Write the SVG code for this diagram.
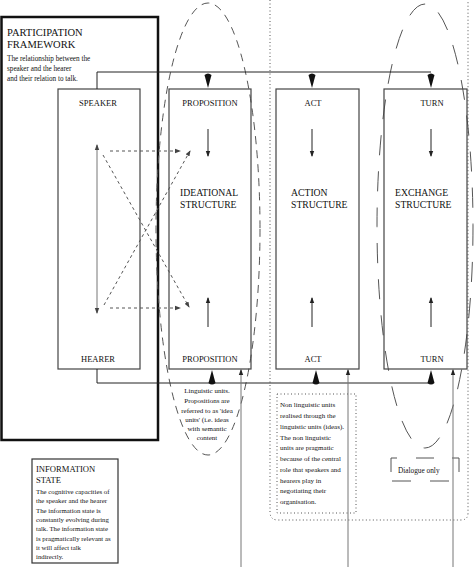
<svg xmlns="http://www.w3.org/2000/svg" width="474" height="567" viewBox="0 0 474 567">
<style>
text{font-family:"Liberation Serif","Times New Roman",serif;fill:#111}
.box{fill:none;stroke:#444;stroke-width:1.2}
.ln{fill:none;stroke:#222;stroke-width:1}
.gl{fill:none;stroke:#777;stroke-width:1}
.dsh{fill:none;stroke:#555;stroke-width:1;stroke-dasharray:3 3}
.dot{fill:none;stroke:#555;stroke-width:1;stroke-dasharray:1 2.5}
.ell{fill:none;stroke:#555;stroke-width:1}
.lbl{font-size:8.5px;text-anchor:middle}
.st{font-size:9.7px}
.sm{font-size:7px}
.ttl{font-size:10.5px}
</style>
<defs>
<marker id="ah" markerWidth="6" markerHeight="6" refX="5" refY="3" orient="auto" markerUnits="userSpaceOnUse">
<path d="M0,0.8 L6,3 L0,5.2 Z" fill="#222"/>
</marker>
<marker id="ahg" markerWidth="6" markerHeight="6" refX="5" refY="3" orient="auto-start-reverse" markerUnits="userSpaceOnUse">
<path d="M0,0.8 L6,3 L0,5.2 Z" fill="#444"/>
</marker>
<path id="thick" d="M-3.5,-13 Q0,-16 3.5,-13 L0,0 Z" fill="#111"/>
</defs>

<g id="participation-framework">
<rect x="1.5" y="17" width="156.5" height="423" fill="none" stroke="#111" stroke-width="2.5"/>
<text x="7" y="36" class="ttl">PARTICIPATION</text>
<text x="7" y="48" class="ttl">FRAMEWORK</text>
<text x="7" y="61" font-size="7.2">The relationship between the</text>
<text x="7" y="71" font-size="7.2">speaker and the hearer</text>
<text x="7" y="81" font-size="7.2">and their relation to talk.</text>
</g>

<g id="ellipse-ideational">
<ellipse cx="208" cy="229" rx="52" ry="226" class="ell" stroke-dasharray="8 6"/>
</g>
<g id="ellipse-exchange">
<ellipse cx="425" cy="226" rx="48" ry="222" class="ell" stroke-dasharray="20 16"/>
</g>

<g id="pragmatic-region">
<path d="M270,0 V512 Q270,520 278,520 H461 Q468,520 468,513 V0" class="dot"/>
</g>

<g id="speaker-hearer">
<rect x="58" y="89" width="82" height="280" class="box"/>
<text x="98" y="106" class="lbl">SPEAKER</text>
<text x="98" y="362" class="lbl">HEARER</text>
</g>

<g id="ideational-structure">
<rect x="169" y="89" width="82" height="280" class="box"/>
<text x="210" y="106" class="lbl">PROPOSITION</text>
<text x="180" y="196" class="st">IDEATIONAL</text>
<text x="180" y="208" class="st">STRUCTURE</text>
<text x="210" y="362" class="lbl">PROPOSITION</text>
</g>

<g id="action-structure">
<rect x="276" y="89" width="83" height="280" class="box"/>
<text x="313" y="106" class="lbl">ACT</text>
<text x="291" y="196" class="st">ACTION</text>
<text x="291" y="208" class="st">STRUCTURE</text>
<text x="313" y="362" class="lbl">ACT</text>
</g>

<g id="exchange-structure">
<rect x="384" y="89" width="83" height="280" class="box"/>
<text x="432" y="106" class="lbl">TURN</text>
<text x="395" y="196" class="st">EXCHANGE</text>
<text x="395" y="208" class="st">STRUCTURE</text>
<text x="432" y="362" class="lbl">TURN</text>
</g>

<g id="linguistic-note">
<text x="207" y="393" class="sm" text-anchor="middle">Linguistic units.</text>
<text x="207" y="403" class="sm" text-anchor="middle">Propositions are</text>
<text x="207" y="413" class="sm" text-anchor="middle">referred to as 'idea</text>
<text x="207" y="422" class="sm" text-anchor="middle">units' (i.e. ideas</text>
<text x="207" y="431" class="sm" text-anchor="middle">with semantic</text>
<text x="207" y="440" class="sm" text-anchor="middle">content</text>
</g>

<g id="non-linguistic-note">
<rect x="277" y="394" width="79" height="119" class="dot"/>
<text x="280" y="407" class="sm">Non linguistic units</text>
<text x="280" y="418" class="sm">realised through the</text>
<text x="280" y="429" class="sm">linguistic units (ideas).</text>
<text x="280" y="440" class="sm">The non linguistic</text>
<text x="280" y="450" class="sm">units are pragmatic</text>
<text x="280" y="461" class="sm">because of the central</text>
<text x="280" y="472" class="sm">role that speakers and</text>
<text x="280" y="483" class="sm">hearers play in</text>
<text x="280" y="493" class="sm">negotiating their</text>
<text x="280" y="504" class="sm">organisation.</text>
</g>

<g id="dialogue-only">
<path d="M391,472 V458 H397 M416,458 H434 M452,458 H459 V472 M392,481 H411 M430,481 H449" class="ell"/>
<text x="398" y="473" font-size="7.3">Dialogue only</text>
</g>

<g id="information-state">
<rect x="32" y="459" width="86" height="104" fill="none" stroke="#333" stroke-width="1.2"/>
<text x="36" y="472" font-size="8.6">INFORMATION</text>
<text x="36" y="483" font-size="8.6">STATE</text>
<text x="36" y="494" font-size="6.8">The cognitive capacities of</text>
<text x="36" y="503" font-size="6.8">the speaker and the hearer</text>
<text x="36" y="513" font-size="6.8">The information state is</text>
<text x="36" y="522" font-size="6.8">constantly evolving during</text>
<text x="36" y="531" font-size="6.8">talk. The information state</text>
<text x="36" y="541" font-size="6.8">is pragmatically relevant as</text>
<text x="36" y="550" font-size="6.8">it will affect talk</text>
<text x="36" y="559" font-size="6.8">indirectly.</text>
</g>

<g id="connectors">
<path d="M97,89 V72 H431" class="ln"/>
<use href="#thick" x="208" y="88"/>
<use href="#thick" x="312" y="88"/>
<use href="#thick" x="431" y="88"/>
<path d="M97,369 V383 H431" class="ln"/>
<use href="#thick" transform="translate(212,370) rotate(180)"/>
<use href="#thick" transform="translate(316,370) rotate(180)"/>
<use href="#thick" transform="translate(431,370) rotate(180)"/>
<line x1="208" y1="129" x2="208" y2="156" class="ln" marker-end="url(#ah)"/>
<line x1="208" y1="327" x2="208" y2="298" class="ln" marker-end="url(#ah)"/>
<line x1="312" y1="129" x2="312" y2="156" class="ln" marker-end="url(#ah)"/>
<line x1="312" y1="327" x2="312" y2="298" class="ln" marker-end="url(#ah)"/>
<line x1="431" y1="129" x2="431" y2="156" class="ln" marker-end="url(#ah)"/>
<line x1="431" y1="327" x2="431" y2="298" class="ln" marker-end="url(#ah)"/>
<line x1="241" y1="567" x2="241" y2="370" class="gl" marker-end="url(#ah)"/>
<line x1="348" y1="567" x2="348" y2="370" class="gl" marker-end="url(#ah)"/>
<line x1="453" y1="567" x2="453" y2="370" class="gl" marker-end="url(#ah)"/>
<line x1="97" y1="145" x2="97" y2="313" class="gl" marker-start="url(#ahg)" marker-end="url(#ahg)"/>
<line x1="110" y1="151" x2="180" y2="151" class="dsh" marker-end="url(#ahg)"/>
<line x1="110" y1="308" x2="180" y2="308" class="dsh" marker-end="url(#ahg)"/>
<line x1="103" y1="155" x2="189" y2="307" class="dsh" marker-end="url(#ahg)"/>
<line x1="104" y1="305" x2="190" y2="151" class="dsh" marker-end="url(#ahg)"/>
</g>
</svg>
